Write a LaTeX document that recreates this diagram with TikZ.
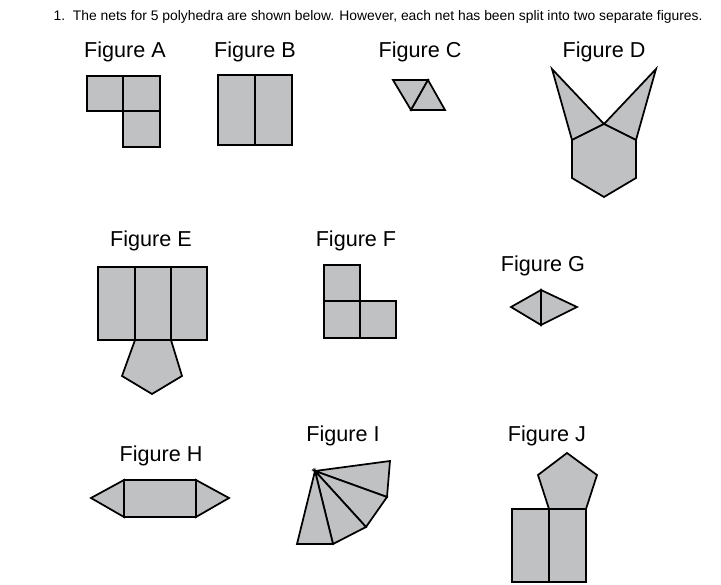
\documentclass[tikz,border=0pt]{standalone}
\usepackage{fontspec}
\setmainfont{Liberation Sans}
\definecolor{netgray}{HTML}{C0C1C3}
\begin{document}
\begin{tikzpicture}[x=0.75pt,y=-0.75pt,
  face/.style={fill=netgray,draw=black,line width=1.3pt,line join=miter},
  lbl/.style={font=\fontsize{16.2}{18}\selectfont}]
\useasboundingbox[fill=white] (0,0) rectangle (721,585);
\node[anchor=west,font=\fontsize{10.4}{12}\selectfont] (title) at (49,17) {1.\ \ The nets for 5 polyhedra are shown below. However, each net has been split into two separate figures.};
% labels
\node[lbl] (la) at (125,52) {Figure A};
\node[lbl] (lb) at (255,52) {Figure B};
\node[lbl] (lc) at (420,52) {Figure C};
\node[lbl] (ld) at (604,52) {Figure D};
\node[lbl] (le) at (151,241) {Figure E};
\node[lbl] (lf) at (356,241) {Figure F};
\node[lbl] (lg) at (543,266) {Figure G};
\node[lbl] (lh) at (161,456) {Figure H};
\node[lbl] (li) at (343,436) {Figure I};
\node[lbl] (lj) at (547,436) {Figure J};
% A
\draw[face] (87,76) rectangle (123,111);
\draw[face] (123,76) rectangle (160,111);
\draw[face] (123,111) rectangle (160,147);
% B
\draw[face] (218,75) rectangle (255,145);
\draw[face] (255,75) rectangle (292,145);
% C
\draw[face] (393,80) -- (428,80) -- (411,110) -- cycle;
\draw[face] (428,80) -- (445,110) -- (411,110) -- cycle;
% D
\draw[face] (552,69) -- (604,124) -- (572,140) -- cycle;
\draw[face] (656,69) -- (636,140) -- (604,124) -- cycle;
\draw[face] (604,124) -- (636,140) -- (636,178) -- (604,197) -- (572,178) -- (572,140) -- cycle;
% E
\draw[face] (98,267) rectangle (135,340);
\draw[face] (135,267) rectangle (171,340);
\draw[face] (171,267) rectangle (207,340);
\draw[face] (135,340) -- (171,340) -- (182,376) -- (152,394) -- (122,376) -- cycle;
% F
\draw[face] (324,265) rectangle (360,301);
\draw[face] (324,301) rectangle (360,338);
\draw[face] (360,301) rectangle (396,338);
% G
\draw[face] (511,307) -- (541,290) -- (541,325) -- cycle;
\draw[face] (541,290) -- (577,307) -- (541,325) -- cycle;
% H
\draw[face] (124,480) rectangle (196,517);
\draw[face] (124,480) -- (91,498) -- (124,517) -- cycle;
\draw[face] (196,480) -- (229,498) -- (196,517) -- cycle;
% I
\draw[face] (315,471) -- (390,461) -- (387,497) -- cycle;
\draw[face] (315,471) -- (387,497) -- (366,527) -- cycle;
\draw[face] (315,471) -- (366,527) -- (333,544) -- cycle;
\draw[face] (315,471) -- (333,544) -- (297,544) -- cycle;
% J
\draw[face] (549,509) -- (538,475) -- (567,453) -- (597,475) -- (586,509) -- cycle;
\draw[face] (512,509) rectangle (549,582);
\draw[face] (549,509) rectangle (586,582);
\end{tikzpicture}
\end{document}
